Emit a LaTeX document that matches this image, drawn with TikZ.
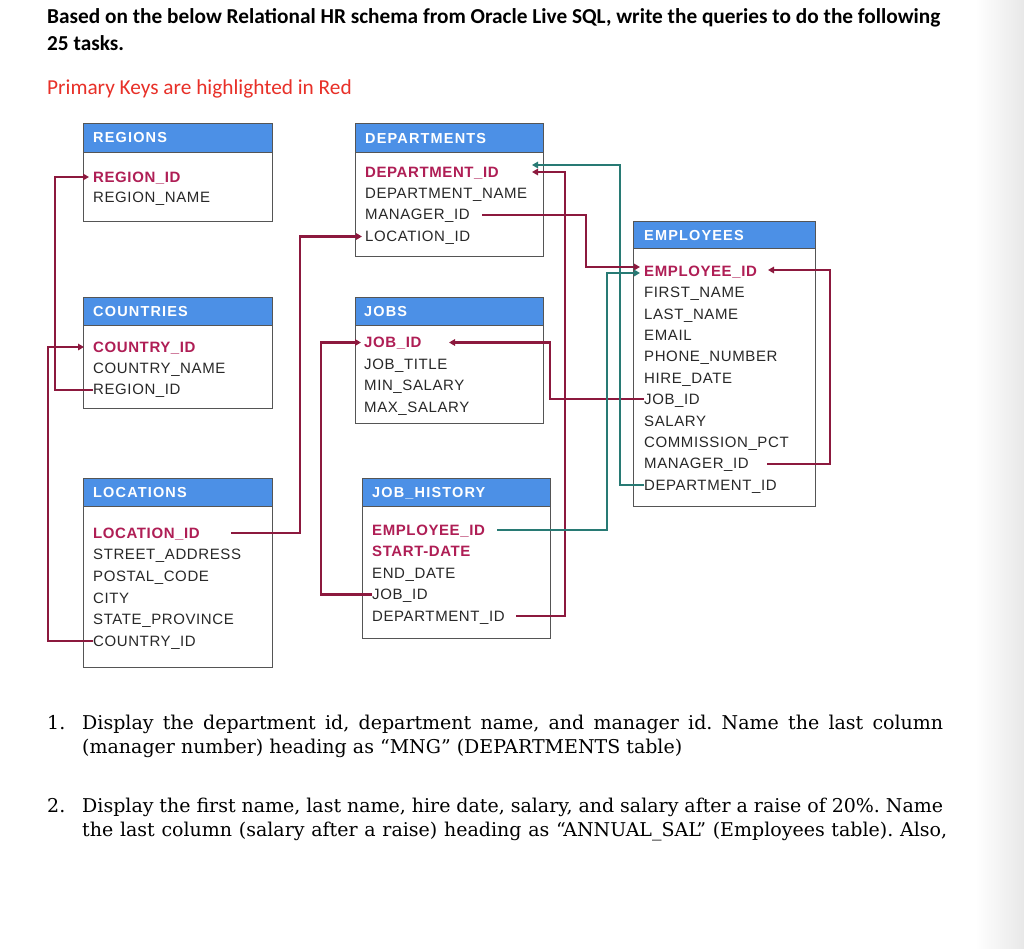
\documentclass[tikz,border=0pt]{standalone}
\usepackage{fontspec}
\usetikzlibrary{arrows.meta}
\newfontfamily\tblfont[LetterSpace=4]{Liberation Sans}
\newfontfamily\hdrfont[LetterSpace=8]{Liberation Sans}
\newfontfamily\calfont{Carlito}
\newfontfamily\serfont{DejaVu Serif}
\definecolor{hdrblue}{RGB}{76,144,230}
\definecolor{boxgray}{RGB}{85,85,85}
\definecolor{txtgray}{RGB}{40,40,40}
\definecolor{pkred}{RGB}{175,30,85}
\definecolor{fkred}{RGB}{140,25,62}
\definecolor{fkteal}{RGB}{40,122,116}
\definecolor{headred}{RGB}{232,48,40}
\definecolor{edgegray}{RGB}{232,232,232}
\frenchspacing
\begin{document}
\begin{tikzpicture}[x=1pt,y=-1pt,
  tbl/.style={draw=boxgray,line width=1pt,fill=white,anchor=north west,inner sep=0pt},
  hdr/.style={draw=boxgray,line width=1pt,fill=hdrblue,anchor=north west,inner sep=0pt},
  hdrtext/.style={anchor=west,inner sep=0pt,text=white,font=\hdrfont\bfseries\fontsize{14.5}{17}\selectfont,text height=10.4pt,text depth=0pt},
  row/.style={anchor=west,inner sep=0pt,text=txtgray,font=\tblfont\fontsize{15}{18}\selectfont,text height=10.7pt,text depth=0pt},
  pk/.style={row,text=pkred,font=\tblfont\bfseries\fontsize{15}{18}\selectfont},
  link/.style={line width=2.1pt,-{Triangle[length=6pt,width=6.5pt]}},
  fklink/.style={link,draw=fkred},
  tllink/.style={link,draw=fkteal},
  ser/.style={anchor=base west,inner sep=0pt,text=black,font=\serfont\fontsize{19}{23}\selectfont},
  cal/.style={anchor=base west,inner sep=0pt,font=\calfont\fontsize{21.3}{25}\selectfont}
]
\useasboundingbox (0,0) rectangle (1024,948);
\fill[white] (0,0) rectangle (1024,948);
\shade[left color=white,right color=edgegray] (975,0) rectangle (1024,948);

% heading texts
\node[cal,font=\calfont\bfseries\fontsize{21.3}{25}\selectfont] (head1) at (47,23) {Based on the below Relational HR schema from Oracle Live SQL, write the queries to do the following};
\node[cal,font=\calfont\bfseries\fontsize{21.3}{25}\selectfont] (head2) at (47,50) {25 tasks.};
\node[cal,text=headred] (head3) at (47,94) {Primary Keys are highlighted in Red};

% REGIONS
\node[tbl,minimum width=189pt,minimum height=98pt] (regions) at (83,123) {};
\node[hdr,minimum width=189pt,minimum height=29pt] (regions-h) at (83,123) {};
\node[hdrtext] (regions-t) at (93,137.5) {REGIONS};
\node[pk] (reg-id) at (93,177) {REGION\_ID};
\node[row] (reg-name) at (93,197.5) {REGION\_NAME};

% DEPARTMENTS
\node[tbl,minimum width=188pt,minimum height=133pt] (depts) at (355,123) {};
\node[hdr,minimum width=188pt,minimum height=29pt] (depts-h) at (355,123) {};
\node[hdrtext] (depts-t) at (365,138) {DEPARTMENTS};
\node[pk] (dep-id) at (365,172) {DEPARTMENT\_ID};
\node[row] (dep-name) at (365,193.3) {DEPARTMENT\_NAME};
\node[row] (dep-mgr) at (365,214.6) {MANAGER\_ID};
\node[row] (dep-loc) at (365,236.5) {LOCATION\_ID};

% EMPLOYEES
\node[tbl,minimum width=182pt,minimum height=285pt] (emps) at (633,221) {};
\node[hdr,minimum width=182pt,minimum height=27pt] (emps-h) at (633,221) {};
\node[hdrtext] (emps-t) at (644,235.5) {EMPLOYEES};
\node[pk] (emp-id) at (644,271) {EMPLOYEE\_ID};
\node[row] (emp-first) at (644,292.4) {FIRST\_NAME};
\node[row] (emp-last) at (644,313.8) {LAST\_NAME};
\node[row] (emp-email) at (644,335.2) {EMAIL};
\node[row] (emp-phone) at (644,356.6) {PHONE\_NUMBER};
\node[row] (emp-hire) at (644,378) {HIRE\_DATE};
\node[row] (emp-job) at (644,399.4) {JOB\_ID};
\node[row] (emp-sal) at (644,420.8) {SALARY};
\node[row] (emp-comm) at (644,442.2) {COMMISSION\_PCT};
\node[row] (emp-mgr) at (644,463.6) {MANAGER\_ID};
\node[row] (emp-dep) at (644,485) {DEPARTMENT\_ID};

% COUNTRIES
\node[tbl,minimum width=189pt,minimum height=111pt] (ctys) at (83,297) {};
\node[hdr,minimum width=189pt,minimum height=28pt] (ctys-h) at (83,297) {};
\node[hdrtext] (ctys-t) at (93,311.5) {COUNTRIES};
\node[pk] (cty-id) at (93,347) {COUNTRY\_ID};
\node[row] (cty-name) at (93,368.3) {COUNTRY\_NAME};
\node[row] (cty-reg) at (93,389.6) {REGION\_ID};

% JOBS
\node[tbl,minimum width=188pt,minimum height=126pt] (jobs) at (355,297) {};
\node[hdr,minimum width=188pt,minimum height=28pt] (jobs-h) at (355,297) {};
\node[hdrtext] (jobs-t) at (364,311.5) {JOBS};
\node[pk] (job-id) at (364,342.5) {JOB\_ID};
\node[row] (job-title) at (364,364.3) {JOB\_TITLE};
\node[row] (job-min) at (364,385.6) {MIN\_SALARY};
\node[row] (job-max) at (364,407) {MAX\_SALARY};

% LOCATIONS
\node[tbl,minimum width=189pt,minimum height=189pt] (locs) at (83,478) {};
\node[hdr,minimum width=189pt,minimum height=28pt] (locs-h) at (83,478) {};
\node[hdrtext] (locs-t) at (93,492.5) {LOCATIONS};
\node[pk] (loc-id) at (93,533) {LOCATION\_ID};
\node[row] (loc-street) at (93,554.6) {STREET\_ADDRESS};
\node[row] (loc-postal) at (93,576.2) {POSTAL\_CODE};
\node[row] (loc-city) at (93,597.8) {CITY};
\node[row] (loc-state) at (93,619.4) {STATE\_PROVINCE};
\node[row] (loc-cty) at (93,641) {COUNTRY\_ID};

% JOB_HISTORY
\node[tbl,minimum width=188pt,minimum height=160pt] (jh) at (362,478) {};
\node[hdr,minimum width=188pt,minimum height=28pt] (jh-h) at (362,478) {};
\node[hdrtext] (jh-t) at (372,492.5) {JOB\_HISTORY};
\node[pk] (jh-emp) at (372,530) {EMPLOYEE\_ID};
\node[pk] (jh-start) at (372,551.5) {START-DATE};
\node[row] (jh-end) at (372,573) {END\_DATE};
\node[row] (jh-job) at (372,594.5) {JOB\_ID};
\node[row] (jh-dep) at (372,616) {DEPARTMENT\_ID};

% connector columns and ends
\coordinate (xa) at (55,0);
\coordinate (xb) at (48,0);
\coordinate (xc) at (300,0);
\coordinate (xd) at (321,0);
\coordinate (xe) at (550,0);
\coordinate (xf) at (565,0);
\coordinate (xg) at (620,0);
\coordinate (xh) at (586,0);
\coordinate (xi) at (607,0);
\coordinate (xj) at (830,0);
\coordinate (t1) at (89,0);
\coordinate (t2) at (84,0);
\coordinate (s3) at (231,0);
\coordinate (t3) at (362,0);
\coordinate (t4) at (361,0);
\coordinate (t5) at (449,0);
\coordinate (s6) at (516,0);
\coordinate (t6) at (532,0);
\coordinate (y7) at (0,165);
\coordinate (s8) at (482,0);
\coordinate (t8) at (640,0);
\coordinate (y8) at (0,267);
\coordinate (s9) at (497,0);
\coordinate (y9) at (0,273);
\coordinate (s10) at (767,0);
\coordinate (t10) at (768,0);
\coordinate (y10) at (0,270);

\draw[fklink] (cty-reg.west) -- (cty-reg.west -| xa) -- (reg-id.west -| xa) -- (reg-id.west -| t1);
\draw[fklink] (loc-cty.west) -- (loc-cty.west -| xb) -- (cty-id.west -| xb) -- (cty-id.west -| t2);
\draw[fklink] (loc-id.east -| s3) -- (loc-id.east -| xc) -- (dep-loc.west -| xc) -- (dep-loc.west -| t3);
\draw[fklink] (jh-job.west) -- (jh-job.west -| xd) -- (job-id.west -| xd) -- (job-id.west -| t4);
\draw[fklink] (emp-job.west) -- (emp-job.west -| xe) -- (job-id.east -| xe) -- (job-id.east -| t5);
\draw[fklink] (jh-dep.east -| s6) -- (jh-dep.east -| xf) -- (dep-id.east -| xf) -- (dep-id.east -| t6);
\draw[tllink] (emp-dep.west) -- (emp-dep.west -| xg) -- (xg |- y7) -- (t6 |- y7);
\draw[fklink] (dep-mgr.east -| s8) -- (dep-mgr.east -| xh) -- (xh |- y8) -- (t8 |- y8);
\draw[tllink] (jh-emp.east -| s9) -- (jh-emp.east -| xi) -- (xi |- y9) -- (t8 |- y9);
\draw[fklink] (emp-mgr.east -| s10) -- (emp-mgr.east -| xj) -- (xj |- y10) -- (t10 |- y10);

% questions
\node[ser] (q1n) at (47,729) {1.};
\node[ser] (q1a) at (82,729) {\makebox[861pt][s]{Display the department id, department name, and manager id. Name the last column}};
\node[ser] (q1b) at (82,753) {(manager number) heading as “MNG” (DEPARTMENTS table)};
\node[ser] (q2n) at (47,812) {2.};
\node[ser] (q2a) at (82,812) {\makebox[861pt][s]{Display the first name, last name, hire date, salary, and salary after a raise of 20\%. Name}};
\node[ser] (q2b) at (82,836) {\makebox[865pt][s]{the last column (salary after a raise) heading as “ANNUAL\_SAL” (Employees table). Also,}};
\end{tikzpicture}
\end{document}
